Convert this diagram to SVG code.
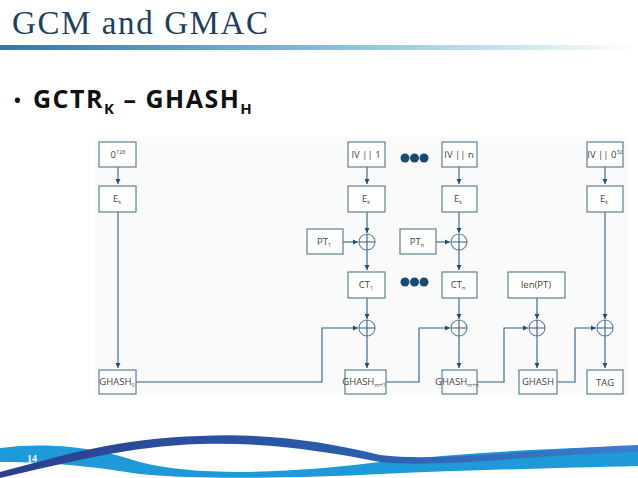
<svg xmlns="http://www.w3.org/2000/svg" width="638" height="478" viewBox="0 0 638 478">
<defs>
<linearGradient id="tl" x1="0" x2="1"><stop offset="0" stop-color="#1f7fae"/><stop offset="0.5" stop-color="#7fbdd6"/><stop offset="1" stop-color="#ffffff"/></linearGradient>
<linearGradient id="w1" x1="0" x2="1"><stop offset="0" stop-color="#2a3f8f"/><stop offset="0.5" stop-color="#2a5aa8"/><stop offset="1" stop-color="#3a7fcf"/></linearGradient>
<marker id="a" viewBox="0 0 6 6" refX="6" refY="3" markerWidth="5" markerHeight="5" orient="auto"><path d="M0,0 L6,3 L0,6 z" fill="#1f4f74"/></marker>
<style>
.b{fill:#fff;stroke:#5d8197;stroke-width:1.2}
.t{font-family:"Open Sans","Liberation Sans",sans-serif;font-size:9.5px;fill:#444;text-anchor:middle}
.s{font-size:5.5px}
.c{fill:none;stroke:#2f5f80;stroke-width:1.1}
.x{fill:#fff;stroke:#5d8197;stroke-width:1.1}
.d{fill:#1a4a70}
</style>
</defs>
<rect width="638" height="478" fill="#fff"/>
<text x="12" y="34" font-family="Liberation Serif,serif" font-size="33" letter-spacing="1.6" fill="#1f3f5f">GCM and GMAC</text>
<rect x="0" y="45" width="638" height="5" fill="url(#tl)"/>
<text x="14" y="107" font-family="Open Sans,Liberation Sans,sans-serif" font-size="18" font-weight="bold" fill="#111">•</text>
<text x="33" y="108" font-family="Open Sans,Liberation Sans,sans-serif" font-size="25" font-weight="bold" letter-spacing="1.5" fill="#111">GCTR<tspan font-size="15" dy="6">K</tspan><tspan dy="-6"> – GHASH</tspan><tspan font-size="15" dy="6">H</tspan></text>
<rect x="95" y="137" width="533" height="258" fill="#fafafa"/>
<g id="connectors">
<path class="c" d="M118,167 V184" marker-end="url(#a)"/>
<path class="c" d="M118,212 V368" marker-end="url(#a)"/>
<path class="c" d="M136,382 H322 V328 H358" marker-end="url(#a)"/>
<path class="c" d="M367,167 V184" marker-end="url(#a)"/>
<path class="c" d="M367,212 V233" marker-end="url(#a)"/>
<path class="c" d="M343,242 H358" marker-end="url(#a)"/>
<path class="c" d="M367,250 V270" marker-end="url(#a)"/>
<path class="c" d="M367,298 V319" marker-end="url(#a)"/>
<path class="c" d="M367,336 V368" marker-end="url(#a)"/>
<path class="c" d="M386,382 H419 V328 H450" marker-end="url(#a)"/>
<path class="c" d="M459,167 V184" marker-end="url(#a)"/>
<path class="c" d="M459,212 V233" marker-end="url(#a)"/>
<path class="c" d="M436,242 H450" marker-end="url(#a)"/>
<path class="c" d="M459,250 V270" marker-end="url(#a)"/>
<path class="c" d="M459,298 V319" marker-end="url(#a)"/>
<path class="c" d="M459,336 V368" marker-end="url(#a)"/>
<path class="c" d="M477,382 H504 V328 H528" marker-end="url(#a)"/>
<path class="c" d="M537,298 V319" marker-end="url(#a)"/>
<path class="c" d="M537,336 V368" marker-end="url(#a)"/>
<path class="c" d="M557,382 H575 V328 H596" marker-end="url(#a)"/>
<path class="c" d="M605,167 V184" marker-end="url(#a)"/>
<path class="c" d="M605,212 V319" marker-end="url(#a)"/>
<path class="c" d="M605,336 V368" marker-end="url(#a)"/>
</g>
<g id="n0"><rect class="b" x="99" y="142" width="37" height="25"/><text class="t" x="118" y="158">0<tspan class="s" dy="-4">128</tspan></text></g>
<g id="ek0"><rect class="b" x="99" y="186" width="37" height="26"/><text class="t" x="117" y="202">E<tspan class="s" dy="2">k</tspan></text></g>
<g id="gh0"><rect class="b" x="99" y="370" width="37" height="24"/><text class="t" x="117" y="385" font-size="7">GHASH<tspan class="s" dy="2">0</tspan></text></g>
<g id="iv1"><rect class="b" x="348" y="142" width="37" height="25"/><text class="t" x="366" y="158">IV || 1</text></g>
<g id="ek1"><rect class="b" x="348" y="186" width="37" height="26"/><text class="t" x="366" y="202">E<tspan class="s" dy="2">k</tspan></text></g>
<g id="pt1"><rect class="b" x="307" y="229" width="36" height="25"/><text class="t" x="324" y="245">PT<tspan class="s" dy="2">1</tspan></text></g>
<g id="x1"><circle class="x" cx="367" cy="242" r="8"/><path class="c" d="M359,242 H375 M367,234 V250"/></g>
<g id="ct1"><rect class="b" x="348" y="272" width="37" height="26"/><text class="t" x="366" y="288">CT<tspan class="s" dy="2">1</tspan></text></g>
<g id="x2"><circle class="x" cx="367" cy="328" r="8"/><path class="c" d="M359,328 H375 M367,320 V336"/></g>
<g id="gh1"><rect class="b" x="345" y="370" width="41" height="24"/><text class="t" x="364" y="385" font-size="6.5">GHASH<tspan class="s" dy="2">m+1</tspan></text></g>
<g id="dots1"><circle class="d" cx="405" cy="158" r="4.5"/><circle class="d" cx="414.5" cy="158" r="4.5"/><circle class="d" cx="424" cy="158" r="4.5"/></g>
<g id="dots2"><circle class="d" cx="405" cy="282" r="4.5"/><circle class="d" cx="414.5" cy="282" r="4.5"/><circle class="d" cx="424" cy="282" r="4.5"/></g>
<g id="ivn"><rect class="b" x="442" y="142" width="35" height="25"/><text class="t" x="459" y="158">IV || n</text></g>
<g id="ekn"><rect class="b" x="442" y="186" width="35" height="26"/><text class="t" x="458" y="202">E<tspan class="s" dy="2">k</tspan></text></g>
<g id="ptn"><rect class="b" x="400" y="229" width="36" height="25"/><text class="t" x="417" y="245">PT<tspan class="s" dy="2">n</tspan></text></g>
<g id="x3"><circle class="x" cx="459" cy="242" r="8"/><path class="c" d="M451,242 H467 M459,234 V250"/></g>
<g id="ctn"><rect class="b" x="442" y="272" width="35" height="26"/><text class="t" x="458" y="288">CT<tspan class="s" dy="2">n</tspan></text></g>
<g id="x4"><circle class="x" cx="459" cy="328" r="8"/><path class="c" d="M451,328 H467 M459,320 V336"/></g>
<g id="ghn"><rect class="b" x="442" y="370" width="35" height="24"/><text class="t" x="457" y="385" font-size="6.5">GHASH<tspan class="s" dy="2">m+n</tspan></text></g>
<g id="len"><rect class="b" x="508" y="272" width="57" height="26"/><text class="t" x="536" y="288">len(PT)</text></g>
<g id="x5"><circle class="x" cx="537" cy="328" r="8"/><path class="c" d="M529,328 H545 M537,320 V336"/></g>
<g id="gh"><rect class="b" x="519" y="370" width="38" height="24"/><text class="t" x="538" y="385" font-size="7">GHASH</text></g>
<g id="iv0"><rect class="b" x="587" y="142" width="36" height="25"/><text class="t" x="605" y="158">IV || 0<tspan class="s" dy="-4">32</tspan></text></g>
<g id="ekt"><rect class="b" x="587" y="186" width="36" height="26"/><text class="t" x="604" y="202">E<tspan class="s" dy="2">k</tspan></text></g>
<g id="x6"><circle class="x" cx="605" cy="328" r="8"/><path class="c" d="M597,328 H613 M605,320 V336"/></g>
<g id="tag"><rect class="b" x="587" y="370" width="36" height="24"/><text class="t" x="605" y="386">TAG</text></g>
<path d="M0,448 C60,440 110,452 140,462 C200,478 300,472 380,462 C470,452 560,448 638,446 L638,466 C560,468 470,470 380,474 C300,478 200,480 140,474 C100,468 60,462 0,462 Z" fill="#1e9ad8"/>
<path d="M0,472 C60,456 120,438 200,436 C260,433 320,440 380,455 C440,462 520,450 638,445 L638,452 C520,456 440,468 380,462 C320,450 260,442 200,444 C130,446 70,462 0,478 Z" fill="url(#w1)"/>
<text x="27" y="462" font-family="Liberation Serif,serif" font-size="10" font-weight="bold" fill="#fff">14</text>
</svg>
